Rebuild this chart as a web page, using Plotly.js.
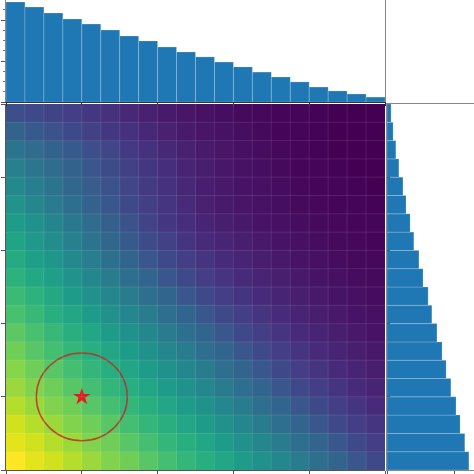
<!DOCTYPE html>
<html>
<head>
<meta charset="utf-8">
<script src="https://cdn.plot.ly/plotly-3.0.1.min.js"></script>
<style>html,body{margin:0;padding:0;background:#fff;}#chart{width:474px;height:474px;}</style>
</head>
<body>
<div id="chart"></div>
<script>
// cell centres (grid units)
var xCenters = [0.5,1.5,2.5,3.5,4.5,5.5,6.5,7.5,8.5,9.5,10.5,11.5,12.5,13.5,14.5,15.5,16.5,17.5,18.5,19.5];
var yCenters = [0.5,1.5,2.5,3.5,4.5,5.5,6.5,7.5,8.5,9.5,10.5,11.5,12.5,13.5,14.5,15.5,16.5,17.5,18.5,19.5];
var tickVals = [0,4,8,12,16,20];

// heatmap values, row 0 = bottom row
var zRow00 = [1.00,.96,.93,.89,.85,.81,.78,.74,.70,.66,.63,.59,.55,.50,.46,.41,.36,.32,.27,.22];
var zRow01 = [.96,.93,.89,.85,.81,.78,.74,.70,.66,.63,.59,.55,.50,.46,.41,.36,.32,.27,.22,.18];
var zRow02 = [.93,.89,.85,.81,.78,.74,.70,.66,.63,.59,.55,.50,.46,.41,.36,.32,.27,.22,.18,.15];
var zRow03 = [.89,.85,.81,.78,.74,.70,.66,.63,.59,.55,.50,.46,.41,.36,.32,.27,.22,.18,.15,.12];
var zRow04 = [.85,.81,.78,.74,.70,.66,.63,.59,.55,.50,.46,.41,.36,.32,.27,.22,.18,.15,.12,.10];
var zRow05 = [.82,.78,.74,.70,.66,.63,.59,.55,.50,.46,.41,.36,.32,.27,.22,.18,.15,.12,.10,.08];
var zRow06 = [.78,.74,.70,.66,.63,.59,.55,.50,.46,.41,.36,.32,.27,.22,.18,.15,.12,.10,.08,.065];
var zRow07 = [.75,.71,.67,.63,.59,.55,.50,.46,.41,.36,.32,.27,.22,.18,.15,.12,.10,.08,.065,.05];
var zRow08 = [.71,.67,.63,.59,.55,.50,.46,.41,.36,.32,.27,.22,.18,.15,.12,.10,.08,.065,.05,.04];
var zRow09 = [.68,.64,.60,.55,.50,.46,.41,.36,.32,.27,.22,.18,.15,.12,.10,.08,.065,.05,.04,.03];
var zRow10 = [.64,.60,.56,.51,.46,.41,.36,.32,.27,.22,.18,.15,.12,.10,.08,.065,.05,.04,.03,.025];
var zRow11 = [.61,.56,.52,.47,.42,.37,.32,.27,.22,.18,.15,.12,.10,.08,.065,.05,.04,.03,.025,.02];
var zRow12 = [.58,.53,.48,.43,.38,.33,.28,.23,.19,.15,.12,.10,.08,.065,.05,.04,.03,.025,.02,.015];
var zRow13 = [.55,.50,.45,.40,.35,.30,.25,.20,.16,.13,.10,.08,.065,.05,.04,.03,.025,.02,.015,.01];
var zRow14 = [.51,.46,.41,.36,.31,.27,.22,.18,.15,.12,.09,.07,.055,.045,.035,.025,.02,.015,.01,.005];
var zRow15 = [.47,.42,.38,.33,.29,.25,.21,.17,.14,.11,.085,.065,.05,.04,.03,.02,.015,.01,.005,0];
var zRow16 = [.43,.39,.35,.31,.27,.23,.19,.16,.13,.10,.08,.06,.045,.035,.025,.015,.01,.005,0,0];
var zRow17 = [.38,.35,.31,.28,.24,.21,.17,.14,.11,.09,.07,.055,.04,.03,.02,.01,.005,0,0,0];
var zRow18 = [.31,.28,.25,.22,.19,.16,.14,.11,.09,.07,.055,.045,.035,.025,.015,.01,.005,0,0,0];
var zRow19 = [.24,.22,.20,.18,.16,.14,.11,.09,.07,.055,.045,.035,.025,.02,.015,.01,.005,0,0,0];
var zValues = [zRow00,zRow01,zRow02,zRow03,zRow04,zRow05,zRow06,zRow07,zRow08,zRow09,
               zRow10,zRow11,zRow12,zRow13,zRow14,zRow15,zRow16,zRow17,zRow18,zRow19];

// marginal histograms
var topCounts = [48.8,46.3,43.4,40.5,38.0,35.1,32.2,29.8,26.8,24.4,22.0,19.5,17.1,14.6,12.2,9.8,7.3,5.4,3.9,2.4];
var rightCounts = [24.1,22.9,21.5,20.3,18.8,17.4,16.2,14.7,13.2,12.1,10.6,9.4,7.9,6.8,5.6,4.7,3.5,2.6,1.8,1.2];

// marked point and circle
var starX = [4];
var starY = [4];
var circleRadius = 2.4;

var W = 474, H = 474;
var xDom = [6/W, 385/W];
var yDom = [4/H, 370/H];
var topDom = [372/H, 1];
var rightDom = [387/W, 1];

var traces = [
  {type:'heatmap', x:xCenters, y:yCenters, z:zValues, colorscale:'Viridis', zmin:0, zmax:1,
   showscale:false, xaxis:'x', yaxis:'y', hoverinfo:'skip'},
  {type:'bar', x:xCenters, y:topCounts, xaxis:'x2', yaxis:'y2',
   marker:{color:'#1f77b4', line:{color:'rgba(255,255,255,0.25)', width:0.8}}, width:1},
  {type:'bar', orientation:'h', x:rightCounts, y:yCenters, xaxis:'x3', yaxis:'y3',
   marker:{color:'#1f77b4', line:{color:'rgba(255,255,255,0.25)', width:0.8}}, width:1},
  {type:'scatter', mode:'markers', x:starX, y:starY, xaxis:'x', yaxis:'y',
   marker:{symbol:'star', size:13, color:'#e31a1c', line:{width:0}}}
];

var shapes = [{type:'circle', xref:'x', yref:'y',
  x0:starX[0]-circleRadius, x1:starX[0]+circleRadius, y0:starY[0]-circleRadius, y1:starY[0]+circleRadius,
  line:{color:'rgba(190,40,30,0.8)', width:1.5}}];
// faint cell seams
for (var k = 1; k < xCenters.length; k++) {
  shapes.push({type:'line', xref:'x', yref:'y', x0:k, x1:k, y0:0, y1:yCenters.length,
    line:{color:'rgba(255,255,255,0.10)', width:1}, layer:'above'});
}
for (var k2 = 1; k2 < yCenters.length; k2++) {
  shapes.push({type:'line', xref:'x', yref:'y', x0:0, x1:xCenters.length, y0:k2, y1:k2,
    line:{color:'rgba(255,255,255,0.10)', width:1}, layer:'above'});
}

var axCol = '#555';
var layout = {
  width:W, height:H, margin:{l:0,r:0,t:0,b:0}, paper_bgcolor:'#fff', plot_bgcolor:'#fff',
  showlegend:false, bargap:0,
  xaxis:{domain:xDom, range:[0,20], anchor:'y', showgrid:false, zeroline:false, showline:true,
         linecolor:axCol, linewidth:1, ticks:'outside', ticklen:4, tickcolor:axCol,
         tickvals:tickVals, showticklabels:false},
  yaxis:{domain:yDom, range:[0,20], anchor:'x', showgrid:false, zeroline:false, showline:true,
         linecolor:axCol, linewidth:1, ticks:'outside', ticklen:4, tickcolor:axCol,
         tickvals:tickVals, showticklabels:false},
  xaxis2:{domain:xDom, range:[0,20], anchor:'y2', showgrid:false, zeroline:false, showline:true,
          linecolor:'#333', linewidth:1, ticks:'outside', ticklen:3, tickcolor:'#333',
          tickvals:tickVals, showticklabels:false},
  yaxis2:{domain:topDom, range:[0,49.76], anchor:'x2', showgrid:false, zeroline:false, showline:true,
          mirror:true, linecolor:'#888', linewidth:1, ticks:'outside', ticklen:4, tickcolor:axCol,
          tickvals:[0,20,40], showticklabels:false,
          minor:{ticks:'outside', ticklen:2, dtick:5, tickcolor:'#777'}},
  xaxis3:{domain:rightDom, range:[0,25.6], anchor:'y3', showgrid:false, zeroline:false, showline:true,
          mirror:true, linecolor:'#888', linewidth:1, ticks:'outside', ticklen:4, tickcolor:axCol,
          tickvals:[0,20], showticklabels:false},
  yaxis3:{domain:yDom, range:[0,20], anchor:'x3', showgrid:false, zeroline:false, showline:true,
          linecolor:'#888', linewidth:1, ticks:'inside', ticklen:3, tickcolor:axCol,
          tickvals:tickVals, showticklabels:false},
  shapes:shapes
};

Plotly.newPlot('chart', traces, layout, {staticPlot:true, displayModeBar:false});
</script>
</body>
</html>
